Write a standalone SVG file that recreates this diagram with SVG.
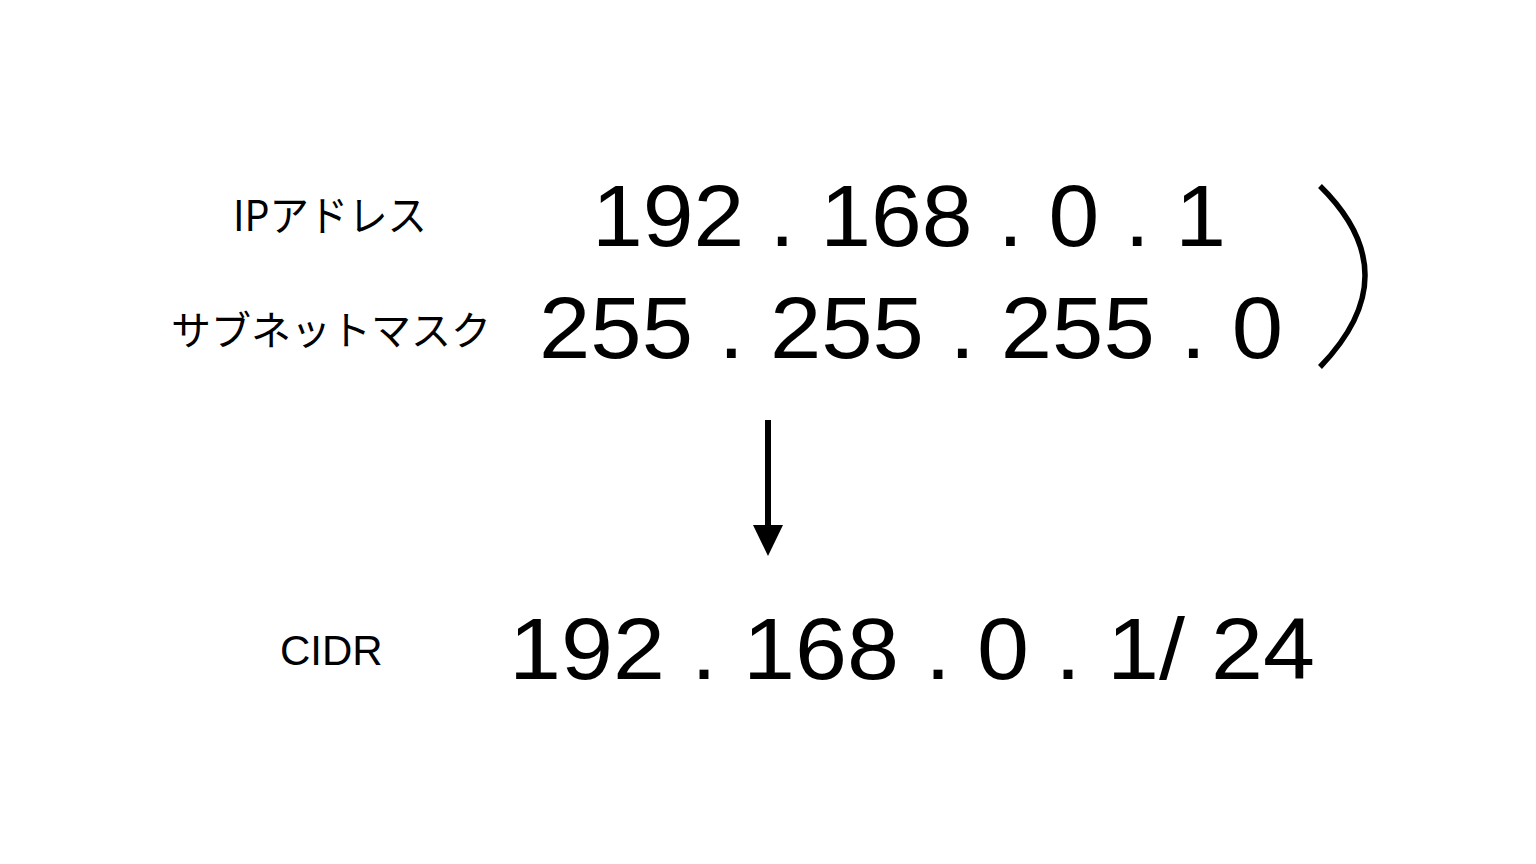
<svg xmlns="http://www.w3.org/2000/svg" width="1536" height="864" viewBox="0 0 1536 864">
<style>
.num{font-family:"Liberation Sans",Arial,sans-serif;font-size:88px;fill:#000}
.lbl{font-family:"Noto Sans CJK JP","Noto Sans",sans-serif;fill:#000}
.lat{font-family:"Liberation Sans",Arial,sans-serif;font-size:42px;fill:#000}
</style>
<rect width="1536" height="864" fill="#fff"/>
<g id="ip">
<text class="lbl" x="233" y="231" font-size="42" textLength="194" lengthAdjust="spacingAndGlyphs">IPアドレス</text>
<text class="num" x="592" y="246" textLength="634" lengthAdjust="spacingAndGlyphs">192 . 168 . 0 . 1</text>
</g>
<g id="mask">
<text class="lbl" x="171" y="345" font-size="40" textLength="320" lengthAdjust="spacingAndGlyphs">サブネットマスク</text>
<text class="num" x="539" y="358" textLength="744" lengthAdjust="spacingAndGlyphs">255 . 255 . 255 . 0</text>
</g>
<g id="cidr">
<text class="lat" x="280" y="665">CIDR</text>
<text class="num" x="509" y="679" textLength="806" lengthAdjust="spacingAndGlyphs">192 . 168 . 0 . 1/ 24</text>
</g>
<g id="connectors">
<path d="M1320,186 C1380,245 1380,305 1320,367" fill="none" stroke="#000" stroke-width="5.5"/>
<line x1="768" y1="420" x2="768" y2="527" stroke="#000" stroke-width="6"/>
<polygon points="753,525 783,525 768,556" fill="#000"/>
</g>
</svg>
